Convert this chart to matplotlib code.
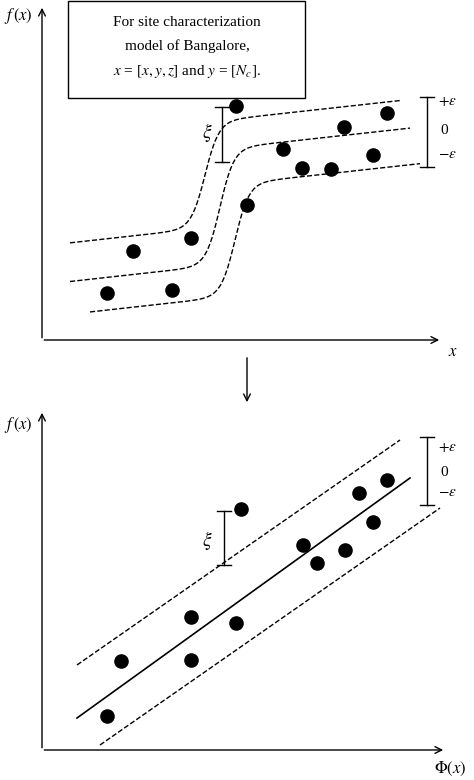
import numpy as np
import matplotlib
matplotlib.use("Agg")
import matplotlib.pyplot as plt

plt.rcParams['font.family'] = ['Liberation Serif', 'DejaVu Serif']
plt.rcParams['mathtext.fontset'] = 'stix'

# top panel points (pixel coords of schematic)
top_x = [107, 172, 133, 191, 236, 247, 283, 302, 331, 344, 373, 387]
top_y = [293, 290, 251, 238, 106, 205, 149, 168, 169, 127, 155, 113]
# bottom panel points
bot_x = [107, 121, 191, 191, 236, 241, 303, 317, 345, 359, 373, 387]
bot_y = [716, 661, 660, 617, 623, 509, 545, 563, 550, 493, 522, 480]

fig = plt.figure(figsize=(4.74, 7.8), dpi=100)
ax = fig.add_axes([0, 0, 1, 1])
ax.set_xlim(0, 474)
ax.set_ylim(780, 0)
ax.axis('off')

arr = dict(arrowstyle='->', lw=1.0, color='black', mutation_scale=12)

def axes_frame(y_top, y0, x_end):
    ax.annotate('', xy=(42, y_top), xytext=(42, y0 + 0.5), arrowprops=arr)
    ax.annotate('', xy=(x_end, y0), xytext=(41.5, y0), arrowprops=arr)

def bracket(x, y1, y2):
    ax.plot([x, x], [y1, y2], color='black', lw=1)
    ax.plot([x - 7, x + 7], [y1, y1], color='black', lw=1)
    ax.plot([x - 7, x + 7], [y2, y2], color='black', lw=1)

# ---- top panel
axes_frame(5, 340, 442)
ax.text(4, 16, r'$f\,(x)$', fontsize=12, va='center')
ax.text(448, 352, r'$x$', fontsize=12, va='center')

def sig(x, x0, base, amp):
    return base - 0.11 * (x - x0) - amp * np.tanh((x - x0) / 14)

xs = np.linspace(70, 400, 300)
ax.plot(xs, sig(xs, 205, 175, 53), 'k--', lw=1)
xs = np.linspace(70, 410, 300)
ax.plot(xs, sig(xs, 220, 207, 58), 'k--', lw=1)
xs = np.linspace(90, 420, 300)
ax.plot(xs, sig(xs, 235, 240, 56), 'k--', lw=1)
ax.scatter(top_x, top_y, s=90, color='black', zorder=5)

ax.add_patch(plt.Rectangle((68, 1), 237, 97, fill=False, lw=1, ec='black'))
ax.text(187, 22, 'For site characterization', ha='center', va='center', fontsize=11)
ax.text(187, 46, 'model of Bangalore,', ha='center', va='center', fontsize=11)
ax.text(187, 72, r'$x$ = [$x, y, z$] and $y$ = [$N_c$].', ha='center', va='center', fontsize=11)

bracket(222, 107, 162)
ax.text(207, 132, r'$\xi$', fontsize=14, va='center', ha='center')
bracket(427, 97, 167)
ax.text(438, 101, r'$+\varepsilon$', fontsize=11, va='center')
ax.text(440, 131, '0', fontsize=11, va='center')
ax.text(438, 155, r'$-\varepsilon$', fontsize=11, va='center')

# ---- arrow between panels
ax.annotate('', xy=(247, 405), xytext=(247, 355), arrowprops=arr)

# ---- bottom panel
axes_frame(410, 750, 446)
ax.text(4, 425, r'$f\,(x)$', fontsize=12, va='center')
ax.text(434, 769, r'$\Phi(x)$', fontsize=12, va='center')
ax.plot([77, 410], [718, 478], 'k-', lw=1.2)
ax.plot([77, 400], [665, 440], 'k--', lw=1)
ax.plot([100, 440], [745, 508], 'k--', lw=1)
ax.scatter(bot_x, bot_y, s=90, color='black', zorder=5)

bracket(224, 511, 565)
ax.text(207, 540, r'$\xi$', fontsize=14, va='center', ha='center')
bracket(427, 437, 505)
ax.text(438, 447, r'$+\varepsilon$', fontsize=11, va='center')
ax.text(440, 472, '0', fontsize=11, va='center')
ax.text(438, 493, r'$-\varepsilon$', fontsize=11, va='center')

fig.savefig('out.png', dpi=100, facecolor='white')
